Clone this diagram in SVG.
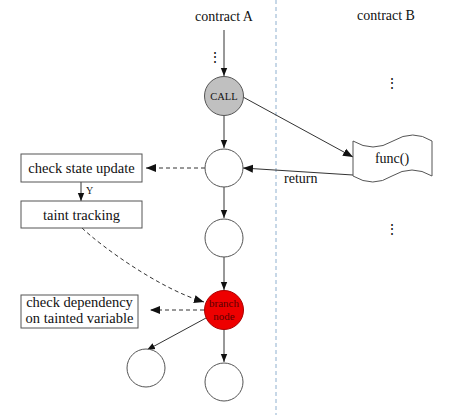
<svg xmlns="http://www.w3.org/2000/svg" width="474" height="415" viewBox="0 0 474 415">
<defs>
<marker id="ah" viewBox="0 0 10 10" refX="10" refY="5" markerWidth="8" markerHeight="8" markerUnits="userSpaceOnUse" orient="auto">
<path d="M0,1 L10,5 L0,9 Z" fill="#111"/>
</marker>
<marker id="ahw" viewBox="0 0 10 10" refX="10" refY="5" markerWidth="10" markerHeight="10" markerUnits="userSpaceOnUse" orient="auto">
<path d="M0,1 L10,5 L0,9 Z" fill="#111"/>
</marker>
</defs>
<style>
text{font-family:"Liberation Serif","Times New Roman",serif;fill:#111}
.t{font-size:14px}
.s{font-size:14px}
.node{fill:#fff;stroke:#555;stroke-width:1}
.box{fill:#fff;stroke:#555;stroke-width:1}
.e{fill:none;stroke:#333;stroke-width:1}
.d{fill:none;stroke:#333;stroke-width:1;stroke-dasharray:4,3}
</style>
<rect width="474" height="415" fill="#fff"/>
<line x1="276" y1="0" x2="276" y2="415" stroke="#8fb0cf" stroke-width="1" stroke-dasharray="4,3"/>
<text class="t" x="224" y="21" text-anchor="middle">contract A</text>
<text class="t" x="386" y="20" text-anchor="middle">contract B</text>
<text class="s" x="215" y="62" text-anchor="middle">⋮</text>
<text class="s" x="392" y="88" text-anchor="middle">⋮</text>
<text class="s" x="392" y="234" text-anchor="middle">⋮</text>
<g id="connectors">
<line class="e" x1="224" y1="30" x2="224" y2="76" marker-end="url(#ah)"/>
<line class="e" x1="224" y1="116" x2="224" y2="148" marker-end="url(#ah)"/>
<line class="e" x1="224" y1="187" x2="224" y2="218" marker-end="url(#ah)"/>
<line class="e" x1="224" y1="257" x2="224" y2="290" marker-end="url(#ah)"/>
<line class="e" x1="224" y1="330" x2="224" y2="362" marker-end="url(#ah)"/>
<line class="e" x1="206" y1="318" x2="147" y2="350" marker-end="url(#ah)"/>
<line class="e" x1="243" y1="97" x2="353" y2="157" marker-end="url(#ahw)"/>
<line class="e" x1="353" y1="175" x2="243" y2="168" marker-end="url(#ahw)"/>
<line class="d" x1="205" y1="168" x2="146" y2="168" marker-end="url(#ahw)"/>
<line class="d" x1="204" y1="310" x2="150" y2="310" marker-end="url(#ahw)"/>
<line class="e" x1="81" y1="182" x2="81" y2="201" marker-end="url(#ah)"/>
<path class="d" d="M82,228 C102,247 160,289 204,302" marker-end="url(#ahw)"/>
<text x="86" y="194" style="font-size:10px">Y</text>
<text class="t" x="284" y="183">return</text>
</g>
<g id="call">
<circle cx="224" cy="96" r="19.5" fill="#c0c0c0" stroke="#555"/>
<text x="224" y="100" text-anchor="middle" style="font-size:10.5px">CALL</text>
</g>
<g id="n2"><circle class="node" cx="224" cy="168" r="19"/></g>
<g id="n3"><circle class="node" cx="224" cy="238" r="19"/></g>
<g id="branch">
<circle cx="224" cy="310" r="19.5" fill="#ee0000" stroke="#a00"/>
<text x="224" y="307" text-anchor="middle" style="font-size:11px;fill:#5a0000">branch</text>
<text x="224" y="320" text-anchor="middle" style="font-size:11px;fill:#5a0000">node</text>
</g>
<g id="n5"><circle class="node" cx="146" cy="368" r="19"/></g>
<g id="n6"><circle class="node" cx="224" cy="382" r="19"/></g>
<g id="func">
<path class="box" d="M353,141 Q373,153 393,141 Q413,129 432,141 L432,176 Q412,164 392,176 Q373,188 353,176 Z"/>
<text class="t" x="392" y="163" text-anchor="middle">func()</text>
</g>
<g id="csu">
<rect class="box" x="21" y="154" width="121" height="28"/>
<text class="t" x="81.5" y="172.5" text-anchor="middle" style="font-size:14.5px">check state update</text>
</g>
<g id="tt">
<rect class="box" x="21" y="201" width="121" height="27"/>
<text class="t" x="81.5" y="219.5" text-anchor="middle" style="font-size:14.5px">taint tracking</text>
</g>
<g id="cd">
<rect class="box" x="21" y="295" width="117" height="33"/>
<text class="t" x="79.5" y="307" text-anchor="middle" style="font-size:14.5px">check dependency</text>
<text class="t" x="79.5" y="323" text-anchor="middle" style="font-size:14.5px">on tainted variable</text>
</g>
</svg>
